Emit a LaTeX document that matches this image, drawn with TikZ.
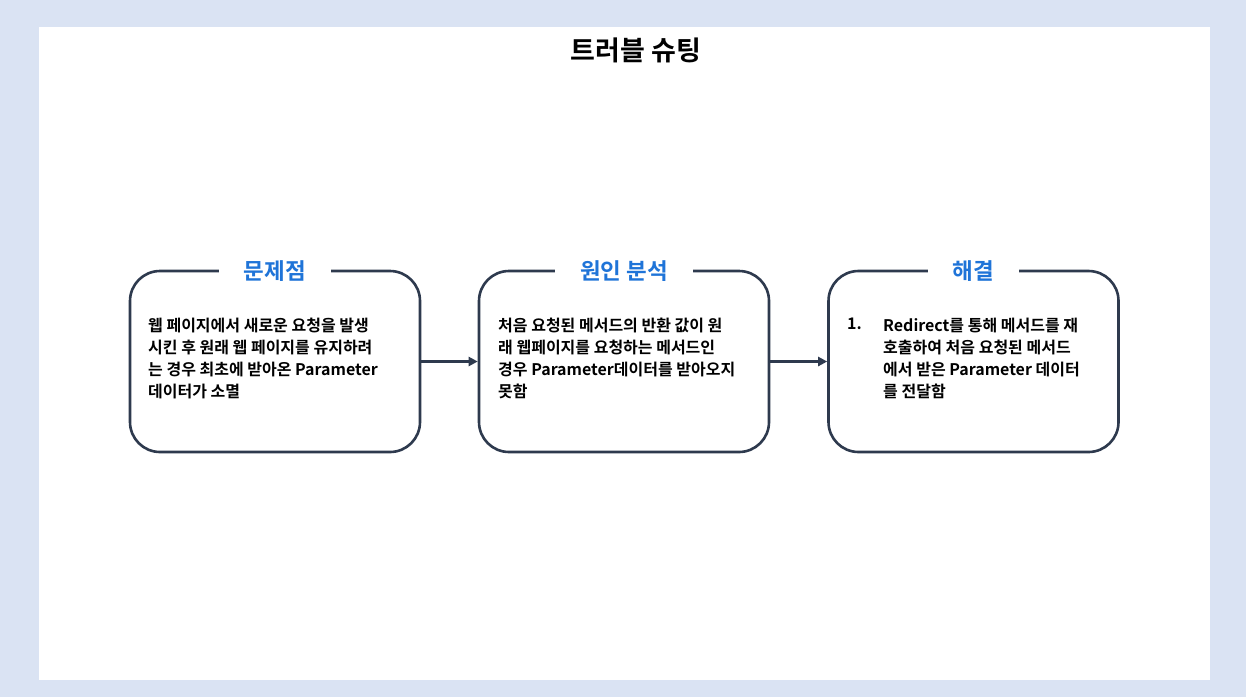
\documentclass[tikz,border=0pt]{standalone}
\usepackage{fontspec}
\newfontfamily\kr{Noto Sans CJK KR}[BoldFont={* Bold}]
\definecolor{bgblue}{HTML}{DAE3F3}
\definecolor{boxline}{HTML}{2E3A4E}
\definecolor{headblue}{HTML}{1F74D8}
\tikzset{
  stepbox/.style={draw=boxline,line width=2.6pt,rounded corners=30pt,minimum width=290pt,minimum height=181pt},
  head/.style={fill=white,text=headblue,font=\kr\bfseries\fontsize{22.5}{26}\selectfont,inner xsep=25pt,inner ysep=2pt},
  body/.style={anchor=north west,align=left,text=black,font=\kr\bfseries\fontsize{16}{22}\selectfont,inner sep=0pt},
  conn/.style={draw=boxline,line width=2.4pt,-{Triangle[length=9pt,width=9pt]}}
}
\usetikzlibrary{arrows.meta}
\begin{document}
\begin{tikzpicture}[x=1pt,y=-1pt]
\fill[bgblue] (0,0) rectangle (1246,697);
\fill[white] (39,27) rectangle (1210,680);
\node[font=\kr\bfseries\fontsize{27}{30}\selectfont] (title) at (636,50) {트러블 슈팅};
\node[stepbox] (b1) at (275,361.5) {};
\node[stepbox] (b2) at (624,361.5) {};
\node[stepbox] (b3) at (973.5,361.5) {};
\node[head] (h1) at (275,271) {문제점};
\node[head] (h2) at (624,271) {원인 분석};
\node[head] (h3) at (973.5,271) {해결};
\node[body] (t1) at (148,318) {웹 페이지에서 새로운 요청을 발생\\시킨 후 원래 웹 페이지를 유지하려\\는 경우 최초에 받아온 Parameter\\데이터가 소멸};
\node[body] (t2) at (498,318) {처음 요청된 메서드의 반환 값이 원\\래 웹페이지를 요청하는 메서드인\\경우 Parameter데이터를 받아오지\\못함};
\node[body] (n3) at (847,318) {1.};
\node[body] (t3) at (883,318) {Redirect를 통해 메서드를 재\\호출하여 처음 요청된 메서드\\에서 받은 Parameter 데이터\\를 전달함};
\draw[conn] (b1.east) -- (b2.west);
\draw[conn] (b2.east) -- (b3.west);
\end{tikzpicture}
\end{document}
